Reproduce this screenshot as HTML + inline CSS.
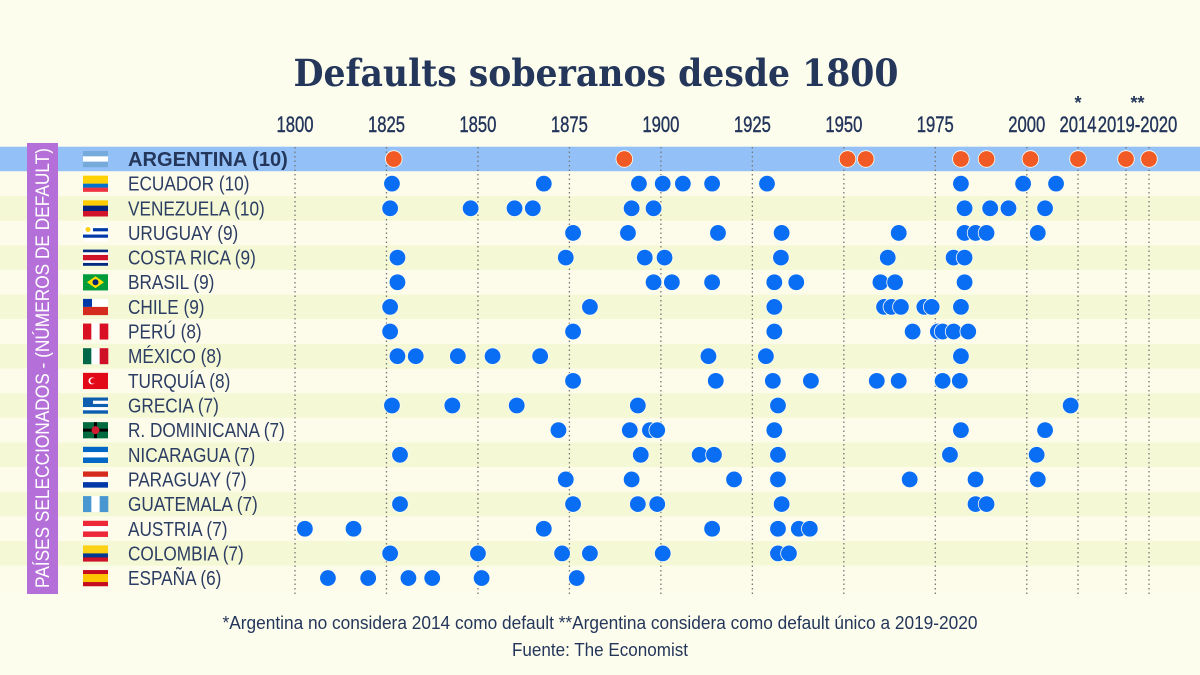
<!DOCTYPE html>
<html><head><meta charset="utf-8"><style>
html,body{margin:0;padding:0;}
body{width:1200px;height:675px;background:#fdfdee;overflow:hidden;position:relative;font-family:"Liberation Sans Narrow","Liberation Sans",sans-serif;}
svg{position:absolute;left:0;top:0;}
</style></head><body>
<svg id="chart" width="1200" height="675" viewBox="0 0 1200 675">
<rect x="0" y="0" width="1200" height="675" fill="#fdfdee"/>
<g id="rows"></g>
<g id="grid"></g>
<g id="dots"></g>
<g id="labels"></g>
<text x="596" y="86" text-anchor="middle" font-family="'DejaVu Serif','Liberation Serif',serif" font-weight="bold" font-size="37" fill="#24365a" textLength="605" lengthAdjust="spacingAndGlyphs">Defaults soberanos desde 1800</text>
<rect x="27" y="143" width="31" height="451" fill="#b56fd8"/>
<text transform="translate(49,368) rotate(-90)" text-anchor="middle" font-size="19" fill="#ffffff" textLength="440" lengthAdjust="spacingAndGlyphs">PAÍSES SELECCIONADOS - (NÚMEROS DE DEFAULT)</text>
<text x="600" y="629" text-anchor="middle" font-size="18" fill="#24365a" textLength="755" lengthAdjust="spacingAndGlyphs">*Argentina no considera 2014 como default  **Argentina considera como default único a 2019-2020</text>
<text x="600" y="656" text-anchor="middle" font-size="18" fill="#24365a" textLength="176" lengthAdjust="spacingAndGlyphs">Fuente: The Economist</text>
</svg>
<script>
const countries=["ARGENTINA (10)","ECUADOR (10)","VENEZUELA (10)","URUGUAY (9)","COSTA RICA (9)","BRASIL (9)","CHILE (9)","PERÚ (8)","MÉXICO (8)","TURQUÍA (8)","GRECIA (7)","R. DOMINICANA (7)","NICARAGUA (7)","PARAGUAY (7)","GUATEMALA (7)","AUSTRIA (7)","COLOMBIA (7)","ESPAÑA (6)"];
const tickYears=[1800,1825,1850,1875,1900,1925,1950,1975,2000,2014,2019,2020];
const tickLabels=["1800","1825","1850","1875","1900","1925","1950","1975","2000","2014","2019-2020",""];
const argentina=[1827,1890,1951,1956,1982,1989,2001,2014,2019,2020];
const ecuador=[1826.5,1868,1894,1900.5,1906,1914,1929,1982,1999,2008];
const venezuela=[1826,1848,1860,1865,1892,1898,1983,1990,1995,2005];
const uruguay=[1876,1891,1915.6,1933,1965,1983,1986,1989,2003];
const costaRica=[1828,1874,1895.6,1901,1932.8,1962,1980,1983];
const brasil=[1828,1898,1903,1914,1931,1937,1960,1964,1983];
const chile=[1826,1880.6,1931,1961,1963,1965.6,1972,1974,1982];
const peru=[1826,1876,1931,1968.8,1975.7,1977,1980,1984];
const mexico=[1828,1833,1844.5,1854,1867,1913,1928.7,1982];
const turquia=[1876,1915,1930.6,1941,1959,1965,1977,1981.7];
const grecia=[1826.5,1843,1860.6,1893.7,1932,2012];
const rDominicana=[1872,1891.5,1897,1899,1931,1982,2005];
const nicaragua=[1828.7,1894.5,1910.6,1914.5,1932,1979,2002.7];
const paraguay=[1874,1892,1920,1932,1968,1986,2003];
const guatemala=[1828.7,1876,1893.7,1899,1933,1986,1989];
const austria=[1802.7,1816,1868,1914,1932,1937.7,1940.7];
const colombia=[1826,1850,1873,1880.6,1900.5,1932,1935];
const espana=[1809,1820,1831,1837.5,1851,1877];
const series=[argentina,ecuador,venezuela,uruguay,costaRica,brasil,chile,peru,mexico,turquia,grecia,rDominicana,nicaragua,paraguay,guatemala,austria,colombia,espana];
const NS="http://www.w3.org/2000/svg";
function xScale(yr){
  if(yr<=2014) return 295+(yr-1800)*(1078-295)/214;
  if(yr<=2019) return 1078+(yr-2014)*(1126-1078)/5;
  return 1126+(yr-2019)*(1149-1126);
}
function yScale(i){return 159+i*24.65;}
function mk(tag,attrs,parent){const e=document.createElementNS(NS,tag);for(const k in attrs)e.setAttribute(k,attrs[k]);parent.appendChild(e);return e;}
const rows=document.getElementById('rows'),grid=document.getElementById('grid'),dots=document.getElementById('dots'),labels=document.getElementById('labels');
countries.forEach((c,i)=>{
  const fill=i===0?"#93c0f6":(i%2===0?"#f4f8d4":"#fdfcea");
  const r=mk('rect',{x:0,y:yScale(i)-12.3,width:1200,height:24.65,fill:fill},rows);
  
  
});
const TS=0.74;
tickYears.forEach((y,i)=>{
  const x=xScale(y);
  const l=mk('line',{x1:x,x2:x,y1:147,y2:594,stroke:"#777",'stroke-width':1.3,'stroke-dasharray':"1.5,3"},grid);
  
  
  if(tickLabels[i]){
    let tx=x; if(y===2019) tx=(xScale(2019)+xScale(2020))/2;
    const t=mk('text',{x:tx/TS,y:132,'text-anchor':'middle','font-size':22.5,fill:'#22345a',stroke:'#22345a','stroke-width':0.4,transform:`scale(${TS},1)`},labels);
    t.textContent=tickLabels[i];
    
    
  }
});
const s1=mk('text',{x:xScale(2014),y:109,'text-anchor':'middle','font-size':18,'font-weight':'bold',fill:'#24365a'},labels);s1.textContent="*";


const s2=mk('text',{x:(xScale(2019)+xScale(2020))/2,y:109,'text-anchor':'middle','font-size':18,'font-weight':'bold',fill:'#24365a'},labels);s2.textContent="**";


const flags=[
 [["#75aadb","#fff","#75aadb"]],[["#ffd100","#ffd100","#0072ce","#ef3340"]],[["#ffcc00","#00247d","#cf142b"]],
 [["#fff","#0038a8","#fff","#0038a8","#fff"]],[["#002b7f","#fff","#ce1126","#ce1126","#fff","#002b7f"]],[["#009b3a","#009b3a"]],
 [["#fff","#d52b1e"]],"peru","mexico",[["#e30a17","#e30a17"]],[["#0d5eaf","#fff","#0d5eaf","#fff","#0d5eaf"]],[["#006b3f","#006b3f"]],
 [["#0067c6","#fff","#0067c6"]],[["#d52b1e","#fff","#0038a8"]],"guate",[["#ed2939","#fff","#ed2939"]],[["#fcd116","#fcd116","#003893","#ce1126"]],[["#c60b1e","#ffc400","#ffc400","#c60b1e"]]
];
countries.forEach((c,i)=>{
  const y=yScale(i);
  const g=mk('g',{},labels);
  
  
  const f=flags[i];
  if(f==="peru"||f==="mexico"||f==="guate"){
    const cols=f==="peru"?["#d91023","#fff","#d91023"]:f==="mexico"?["#006847","#fff","#ce1126"]:["#4997d0","#fff","#4997d0"];
    cols.forEach((col,k)=>mk('rect',{x:83+k*25/3,y:y-8,width:25/3+0.3,height:16,fill:col},g));
  } else {
    const st=f[0];const h=16/st.length;
    st.forEach((col,k)=>mk('rect',{x:83,y:y-8+k*h,width:25,height:h+0.2,fill:col},g));
    if(i===5){mk('polygon',{points:`${87},${y} ${95.5},${y-6} ${104},${y} ${95.5},${y+6}`,fill:'#fedf00'},g);mk('circle',{cx:95.5,cy:y,r:3,fill:'#002776'},g);}
    if(i===6){mk('rect',{x:83,y:y-8,width:9,height:8,fill:'#0039a6'},g);}
    if(i===3){mk('rect',{x:83,y:y-8,width:10,height:9,fill:'#fff'},g);mk('circle',{cx:88,cy:y-3.5,r:2.5,fill:'#fcd116'},g);}
    if(i===9){mk('circle',{cx:92,cy:y,r:3.5,fill:'#fff'},g);mk('circle',{cx:93,cy:y,r:2.8,fill:'#e30a17'},g);}
    if(i===10){mk('rect',{x:83,y:y-8,width:10,height:9,fill:'#0d5eaf'},g);}
    if(i===11){mk('rect',{x:94,y:y-8,width:3,height:16,fill:'#000'},g);mk('rect',{x:83,y:y-1.5,width:25,height:3,fill:'#000'},g);mk('circle',{cx:95.5,cy:y,r:4,fill:'#d41c30'},g);}
  }
  const sc=i===0?0.98:0.84;
  const t=mk('text',{x:128/sc,y:y+7,'font-size':20.5,fill:i===0?'#24365a':'#2c3d63','font-weight':i===0?'bold':'normal',transform:`scale(${sc},1)`},labels);
  t.textContent=c;
  
  
});
series.forEach((arr,i)=>{
  arr.forEach(yr=>{
    const d=mk('circle',{cx:xScale(yr),cy:yScale(i),r:8.3,fill:i===0?'#f15a24':'#0a6ef5',stroke:'#fdfdee','stroke-width':0.8},dots);
    
    
  });
});
</script>
</body></html>
